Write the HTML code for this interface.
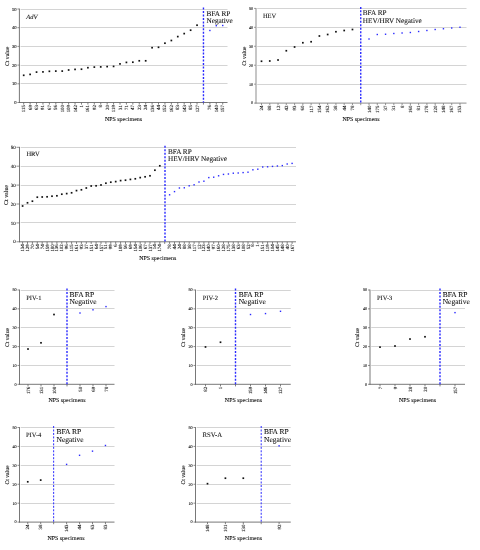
<!DOCTYPE html>
<html><head><meta charset="utf-8"><title>Ct values of NPS specimens</title>
<style>
html,body{margin:0;padding:0;background:#fff;}
body{width:480px;height:550px;overflow:hidden;font-family:"Liberation Serif",serif;}
svg{display:block;text-rendering:geometricPrecision;font-family:"Liberation Serif",serif;}
</style></head><body>
<svg width="480" height="550" viewBox="0 0 480 550">
<rect width="480" height="550" fill="#fff"/>
<line x1="20.60" y1="83.50" x2="227.50" y2="83.50" stroke="#c2c2c2" stroke-width="0.7"/>
<line x1="20.60" y1="65.50" x2="227.50" y2="65.50" stroke="#c2c2c2" stroke-width="0.7"/>
<line x1="20.60" y1="46.50" x2="227.50" y2="46.50" stroke="#c2c2c2" stroke-width="0.7"/>
<line x1="20.60" y1="27.50" x2="227.50" y2="27.50" stroke="#c2c2c2" stroke-width="0.7"/>
<line x1="20.60" y1="9.50" x2="227.50" y2="9.50" stroke="#c2c2c2" stroke-width="0.7"/>
<line x1="19.40" y1="8.60" x2="19.40" y2="102.90" stroke="#606060" stroke-width="0.85"/>
<line x1="19.00" y1="102.50" x2="227.50" y2="102.50" stroke="#606060" stroke-width="0.85"/>
<line x1="17.40" y1="102.50" x2="19.40" y2="102.50" stroke="#606060" stroke-width="0.7"/>
<text x="16.60" y="104.02" font-size="4.6" text-anchor="end" fill="#111" stroke="#111" stroke-width="0.1">0</text>
<line x1="17.40" y1="83.80" x2="19.40" y2="83.80" stroke="#606060" stroke-width="0.7"/>
<text x="16.60" y="85.32" font-size="4.6" text-anchor="end" fill="#111" stroke="#111" stroke-width="0.1">10</text>
<line x1="17.40" y1="65.10" x2="19.40" y2="65.10" stroke="#606060" stroke-width="0.7"/>
<text x="16.60" y="66.62" font-size="4.6" text-anchor="end" fill="#111" stroke="#111" stroke-width="0.1">20</text>
<line x1="17.40" y1="46.40" x2="19.40" y2="46.40" stroke="#606060" stroke-width="0.7"/>
<text x="16.60" y="47.92" font-size="4.6" text-anchor="end" fill="#111" stroke="#111" stroke-width="0.1">30</text>
<line x1="17.40" y1="27.70" x2="19.40" y2="27.70" stroke="#606060" stroke-width="0.7"/>
<text x="16.60" y="29.22" font-size="4.6" text-anchor="end" fill="#111" stroke="#111" stroke-width="0.1">40</text>
<line x1="17.40" y1="9.00" x2="19.40" y2="9.00" stroke="#606060" stroke-width="0.7"/>
<text x="16.60" y="10.52" font-size="4.6" text-anchor="end" fill="#111" stroke="#111" stroke-width="0.1">50</text>
<line x1="23.70" y1="102.50" x2="23.70" y2="104.60" stroke="#606060" stroke-width="0.8"/>
<text transform="translate(25.20 105.10) rotate(-90)" font-size="4.8" text-anchor="end" fill="#111" stroke="#111" stroke-width="0.1">115</text>
<line x1="30.12" y1="102.50" x2="30.12" y2="104.60" stroke="#606060" stroke-width="0.8"/>
<text transform="translate(31.62 105.10) rotate(-90)" font-size="4.8" text-anchor="end" fill="#111" stroke="#111" stroke-width="0.1">69</text>
<line x1="36.54" y1="102.50" x2="36.54" y2="104.60" stroke="#606060" stroke-width="0.8"/>
<text transform="translate(38.04 105.10) rotate(-90)" font-size="4.8" text-anchor="end" fill="#111" stroke="#111" stroke-width="0.1">63</text>
<line x1="42.96" y1="102.50" x2="42.96" y2="104.60" stroke="#606060" stroke-width="0.8"/>
<text transform="translate(44.46 105.10) rotate(-90)" font-size="4.8" text-anchor="end" fill="#111" stroke="#111" stroke-width="0.1">91</text>
<line x1="49.38" y1="102.50" x2="49.38" y2="104.60" stroke="#606060" stroke-width="0.8"/>
<text transform="translate(50.88 105.10) rotate(-90)" font-size="4.8" text-anchor="end" fill="#111" stroke="#111" stroke-width="0.1">67</text>
<line x1="55.80" y1="102.50" x2="55.80" y2="104.60" stroke="#606060" stroke-width="0.8"/>
<text transform="translate(57.30 105.10) rotate(-90)" font-size="4.8" text-anchor="end" fill="#111" stroke="#111" stroke-width="0.1">56</text>
<line x1="62.22" y1="102.50" x2="62.22" y2="104.60" stroke="#606060" stroke-width="0.8"/>
<text transform="translate(63.72 105.10) rotate(-90)" font-size="4.8" text-anchor="end" fill="#111" stroke="#111" stroke-width="0.1">100</text>
<line x1="68.64" y1="102.50" x2="68.64" y2="104.60" stroke="#606060" stroke-width="0.8"/>
<text transform="translate(70.14 105.10) rotate(-90)" font-size="4.8" text-anchor="end" fill="#111" stroke="#111" stroke-width="0.1">109</text>
<line x1="75.06" y1="102.50" x2="75.06" y2="104.60" stroke="#606060" stroke-width="0.8"/>
<text transform="translate(76.56 105.10) rotate(-90)" font-size="4.8" text-anchor="end" fill="#111" stroke="#111" stroke-width="0.1">142</text>
<line x1="81.48" y1="102.50" x2="81.48" y2="104.60" stroke="#606060" stroke-width="0.8"/>
<text transform="translate(82.98 105.10) rotate(-90)" font-size="4.8" text-anchor="end" fill="#111" stroke="#111" stroke-width="0.1">1</text>
<line x1="87.90" y1="102.50" x2="87.90" y2="104.60" stroke="#606060" stroke-width="0.8"/>
<text transform="translate(89.40 105.10) rotate(-90)" font-size="4.8" text-anchor="end" fill="#111" stroke="#111" stroke-width="0.1">161</text>
<line x1="94.32" y1="102.50" x2="94.32" y2="104.60" stroke="#606060" stroke-width="0.8"/>
<text transform="translate(95.82 105.10) rotate(-90)" font-size="4.8" text-anchor="end" fill="#111" stroke="#111" stroke-width="0.1">92</text>
<line x1="100.74" y1="102.50" x2="100.74" y2="104.60" stroke="#606060" stroke-width="0.8"/>
<text transform="translate(102.24 105.10) rotate(-90)" font-size="4.8" text-anchor="end" fill="#111" stroke="#111" stroke-width="0.1">8</text>
<line x1="107.16" y1="102.50" x2="107.16" y2="104.60" stroke="#606060" stroke-width="0.8"/>
<text transform="translate(108.66 105.10) rotate(-90)" font-size="4.8" text-anchor="end" fill="#111" stroke="#111" stroke-width="0.1">20</text>
<line x1="113.58" y1="102.50" x2="113.58" y2="104.60" stroke="#606060" stroke-width="0.8"/>
<text transform="translate(115.08 105.10) rotate(-90)" font-size="4.8" text-anchor="end" fill="#111" stroke="#111" stroke-width="0.1">119</text>
<line x1="120.00" y1="102.50" x2="120.00" y2="104.60" stroke="#606060" stroke-width="0.8"/>
<text transform="translate(121.50 105.10) rotate(-90)" font-size="4.8" text-anchor="end" fill="#111" stroke="#111" stroke-width="0.1">31</text>
<line x1="126.42" y1="102.50" x2="126.42" y2="104.60" stroke="#606060" stroke-width="0.8"/>
<text transform="translate(127.92 105.10) rotate(-90)" font-size="4.8" text-anchor="end" fill="#111" stroke="#111" stroke-width="0.1">71</text>
<line x1="132.84" y1="102.50" x2="132.84" y2="104.60" stroke="#606060" stroke-width="0.8"/>
<text transform="translate(134.34 105.10) rotate(-90)" font-size="4.8" text-anchor="end" fill="#111" stroke="#111" stroke-width="0.1">47</text>
<line x1="139.26" y1="102.50" x2="139.26" y2="104.60" stroke="#606060" stroke-width="0.8"/>
<text transform="translate(140.76 105.10) rotate(-90)" font-size="4.8" text-anchor="end" fill="#111" stroke="#111" stroke-width="0.1">23</text>
<line x1="145.68" y1="102.50" x2="145.68" y2="104.60" stroke="#606060" stroke-width="0.8"/>
<text transform="translate(147.18 105.10) rotate(-90)" font-size="4.8" text-anchor="end" fill="#111" stroke="#111" stroke-width="0.1">24</text>
<line x1="152.10" y1="102.50" x2="152.10" y2="104.60" stroke="#606060" stroke-width="0.8"/>
<text transform="translate(153.60 105.10) rotate(-90)" font-size="4.8" text-anchor="end" fill="#111" stroke="#111" stroke-width="0.1">136</text>
<line x1="158.52" y1="102.50" x2="158.52" y2="104.60" stroke="#606060" stroke-width="0.8"/>
<text transform="translate(160.02 105.10) rotate(-90)" font-size="4.8" text-anchor="end" fill="#111" stroke="#111" stroke-width="0.1">44</text>
<line x1="164.94" y1="102.50" x2="164.94" y2="104.60" stroke="#606060" stroke-width="0.8"/>
<text transform="translate(166.44 105.10) rotate(-90)" font-size="4.8" text-anchor="end" fill="#111" stroke="#111" stroke-width="0.1">152</text>
<line x1="171.36" y1="102.50" x2="171.36" y2="104.60" stroke="#606060" stroke-width="0.8"/>
<text transform="translate(172.86 105.10) rotate(-90)" font-size="4.8" text-anchor="end" fill="#111" stroke="#111" stroke-width="0.1">162</text>
<line x1="177.78" y1="102.50" x2="177.78" y2="104.60" stroke="#606060" stroke-width="0.8"/>
<text transform="translate(179.28 105.10) rotate(-90)" font-size="4.8" text-anchor="end" fill="#111" stroke="#111" stroke-width="0.1">83</text>
<line x1="184.20" y1="102.50" x2="184.20" y2="104.60" stroke="#606060" stroke-width="0.8"/>
<text transform="translate(185.70 105.10) rotate(-90)" font-size="4.8" text-anchor="end" fill="#111" stroke="#111" stroke-width="0.1">143</text>
<line x1="190.62" y1="102.50" x2="190.62" y2="104.60" stroke="#606060" stroke-width="0.8"/>
<text transform="translate(192.12 105.10) rotate(-90)" font-size="4.8" text-anchor="end" fill="#111" stroke="#111" stroke-width="0.1">85</text>
<line x1="197.04" y1="102.50" x2="197.04" y2="104.60" stroke="#606060" stroke-width="0.8"/>
<text transform="translate(198.54 105.10) rotate(-90)" font-size="4.8" text-anchor="end" fill="#111" stroke="#111" stroke-width="0.1">127</text>
<line x1="203.46" y1="102.50" x2="203.46" y2="104.60" stroke="#606060" stroke-width="0.8"/>
<line x1="209.88" y1="102.50" x2="209.88" y2="104.60" stroke="#606060" stroke-width="0.8"/>
<text transform="translate(211.38 105.10) rotate(-90)" font-size="4.8" text-anchor="end" fill="#111" stroke="#111" stroke-width="0.1">76</text>
<line x1="216.30" y1="102.50" x2="216.30" y2="104.60" stroke="#606060" stroke-width="0.8"/>
<text transform="translate(217.80 105.10) rotate(-90)" font-size="4.8" text-anchor="end" fill="#111" stroke="#111" stroke-width="0.1">140</text>
<line x1="222.72" y1="102.50" x2="222.72" y2="104.60" stroke="#606060" stroke-width="0.8"/>
<text transform="translate(224.22 105.10) rotate(-90)" font-size="4.8" text-anchor="end" fill="#111" stroke="#111" stroke-width="0.1">157</text>
<line x1="203.46" y1="7.50" x2="203.46" y2="102.50" stroke="#2a2aff" stroke-width="1.4" stroke-dasharray="2.0 1.47"/>
<rect x="22.85" y="74.45" width="1.7" height="1.7" fill="#111"/>
<rect x="29.27" y="73.55" width="1.7" height="1.7" fill="#111"/>
<rect x="35.69" y="71.25" width="1.7" height="1.7" fill="#111"/>
<rect x="42.11" y="71.05" width="1.7" height="1.7" fill="#111"/>
<rect x="48.53" y="70.45" width="1.7" height="1.7" fill="#111"/>
<rect x="54.95" y="70.25" width="1.7" height="1.7" fill="#111"/>
<rect x="61.37" y="70.25" width="1.7" height="1.7" fill="#111"/>
<rect x="67.79" y="69.15" width="1.7" height="1.7" fill="#111"/>
<rect x="74.21" y="68.55" width="1.7" height="1.7" fill="#111"/>
<rect x="80.63" y="68.35" width="1.7" height="1.7" fill="#111"/>
<rect x="87.05" y="66.85" width="1.7" height="1.7" fill="#111"/>
<rect x="93.47" y="66.25" width="1.7" height="1.7" fill="#111"/>
<rect x="99.89" y="66.05" width="1.7" height="1.7" fill="#111"/>
<rect x="106.31" y="65.75" width="1.7" height="1.7" fill="#111"/>
<rect x="112.73" y="65.55" width="1.7" height="1.7" fill="#111"/>
<rect x="119.15" y="63.05" width="1.7" height="1.7" fill="#111"/>
<rect x="125.57" y="61.55" width="1.7" height="1.7" fill="#111"/>
<rect x="131.99" y="61.35" width="1.7" height="1.7" fill="#111"/>
<rect x="138.41" y="59.95" width="1.7" height="1.7" fill="#111"/>
<rect x="144.83" y="59.95" width="1.7" height="1.7" fill="#111"/>
<rect x="151.25" y="46.85" width="1.7" height="1.7" fill="#111"/>
<rect x="157.67" y="46.45" width="1.7" height="1.7" fill="#111"/>
<rect x="164.09" y="42.35" width="1.7" height="1.7" fill="#111"/>
<rect x="170.51" y="39.65" width="1.7" height="1.7" fill="#111"/>
<rect x="176.93" y="35.75" width="1.7" height="1.7" fill="#111"/>
<rect x="183.35" y="32.75" width="1.7" height="1.7" fill="#111"/>
<rect x="189.77" y="29.35" width="1.7" height="1.7" fill="#111"/>
<rect x="196.19" y="24.35" width="1.7" height="1.7" fill="#111"/>
<rect x="209.18" y="29.80" width="1.4" height="1.4" fill="#2a2aff"/>
<rect x="215.60" y="25.00" width="1.4" height="1.4" fill="#2a2aff"/>
<rect x="222.02" y="24.80" width="1.4" height="1.4" fill="#2a2aff"/>
<text x="26.30" y="18.60" font-size="6.5" font-style="italic" fill="#111" stroke="#111" stroke-width="0.08">AdV</text>
<text x="206.40" y="15.90" font-size="7.3" fill="#111" stroke="#111" stroke-width="0.08">BFA RP</text>
<text x="206.40" y="23.30" font-size="7.3" fill="#111" stroke="#111" stroke-width="0.08">Negative</text>
<text x="123.50" y="120.80" font-size="5.95" text-anchor="middle" fill="#111" stroke="#111" stroke-width="0.1">NPS specimens</text>
<text transform="translate(8.50 56.40) rotate(-90)" font-size="5.7" text-anchor="middle" fill="#111" stroke="#111" stroke-width="0.1">Ct value</text>
<line x1="257.20" y1="84.50" x2="466.50" y2="84.50" stroke="#c2c2c2" stroke-width="0.7"/>
<line x1="257.20" y1="65.50" x2="466.50" y2="65.50" stroke="#c2c2c2" stroke-width="0.7"/>
<line x1="257.20" y1="46.50" x2="466.50" y2="46.50" stroke="#c2c2c2" stroke-width="0.7"/>
<line x1="257.20" y1="27.50" x2="466.50" y2="27.50" stroke="#c2c2c2" stroke-width="0.7"/>
<line x1="257.20" y1="8.50" x2="466.50" y2="8.50" stroke="#c2c2c2" stroke-width="0.7"/>
<line x1="256.00" y1="8.00" x2="256.00" y2="103.50" stroke="#7a7a7a" stroke-width="0.85"/>
<line x1="255.60" y1="103.10" x2="466.50" y2="103.10" stroke="#7a7a7a" stroke-width="0.85"/>
<line x1="254.00" y1="103.10" x2="256.00" y2="103.10" stroke="#7a7a7a" stroke-width="0.7"/>
<text x="253.20" y="104.49" font-size="4.2" text-anchor="end" fill="#111" stroke="#111" stroke-width="0.1">0</text>
<line x1="254.00" y1="84.16" x2="256.00" y2="84.16" stroke="#7a7a7a" stroke-width="0.7"/>
<text x="253.20" y="85.55" font-size="4.2" text-anchor="end" fill="#111" stroke="#111" stroke-width="0.1">10</text>
<line x1="254.00" y1="65.22" x2="256.00" y2="65.22" stroke="#7a7a7a" stroke-width="0.7"/>
<text x="253.20" y="66.61" font-size="4.2" text-anchor="end" fill="#111" stroke="#111" stroke-width="0.1">20</text>
<line x1="254.00" y1="46.28" x2="256.00" y2="46.28" stroke="#7a7a7a" stroke-width="0.7"/>
<text x="253.20" y="47.67" font-size="4.2" text-anchor="end" fill="#111" stroke="#111" stroke-width="0.1">30</text>
<line x1="254.00" y1="27.34" x2="256.00" y2="27.34" stroke="#7a7a7a" stroke-width="0.7"/>
<text x="253.20" y="28.73" font-size="4.2" text-anchor="end" fill="#111" stroke="#111" stroke-width="0.1">40</text>
<line x1="254.00" y1="8.40" x2="256.00" y2="8.40" stroke="#7a7a7a" stroke-width="0.7"/>
<text x="253.20" y="9.79" font-size="4.2" text-anchor="end" fill="#111" stroke="#111" stroke-width="0.1">50</text>
<line x1="261.50" y1="103.10" x2="261.50" y2="105.20" stroke="#7a7a7a" stroke-width="0.8"/>
<text transform="translate(263.00 105.70) rotate(-90)" font-size="4.8" text-anchor="end" fill="#111" stroke="#111" stroke-width="0.1">24</text>
<line x1="269.77" y1="103.10" x2="269.77" y2="105.20" stroke="#7a7a7a" stroke-width="0.8"/>
<text transform="translate(271.27 105.70) rotate(-90)" font-size="4.8" text-anchor="end" fill="#111" stroke="#111" stroke-width="0.1">88</text>
<line x1="278.04" y1="103.10" x2="278.04" y2="105.20" stroke="#7a7a7a" stroke-width="0.8"/>
<text transform="translate(279.54 105.70) rotate(-90)" font-size="4.8" text-anchor="end" fill="#111" stroke="#111" stroke-width="0.1">12</text>
<line x1="286.31" y1="103.10" x2="286.31" y2="105.20" stroke="#7a7a7a" stroke-width="0.8"/>
<text transform="translate(287.81 105.70) rotate(-90)" font-size="4.8" text-anchor="end" fill="#111" stroke="#111" stroke-width="0.1">42</text>
<line x1="294.58" y1="103.10" x2="294.58" y2="105.20" stroke="#7a7a7a" stroke-width="0.8"/>
<text transform="translate(296.08 105.70) rotate(-90)" font-size="4.8" text-anchor="end" fill="#111" stroke="#111" stroke-width="0.1">93</text>
<line x1="302.85" y1="103.10" x2="302.85" y2="105.20" stroke="#7a7a7a" stroke-width="0.8"/>
<text transform="translate(304.35 105.70) rotate(-90)" font-size="4.8" text-anchor="end" fill="#111" stroke="#111" stroke-width="0.1">60</text>
<line x1="311.12" y1="103.10" x2="311.12" y2="105.20" stroke="#7a7a7a" stroke-width="0.8"/>
<text transform="translate(312.62 105.70) rotate(-90)" font-size="4.8" text-anchor="end" fill="#111" stroke="#111" stroke-width="0.1">117</text>
<line x1="319.39" y1="103.10" x2="319.39" y2="105.20" stroke="#7a7a7a" stroke-width="0.8"/>
<text transform="translate(320.89 105.70) rotate(-90)" font-size="4.8" text-anchor="end" fill="#111" stroke="#111" stroke-width="0.1">154</text>
<line x1="327.66" y1="103.10" x2="327.66" y2="105.20" stroke="#7a7a7a" stroke-width="0.8"/>
<text transform="translate(329.16 105.70) rotate(-90)" font-size="4.8" text-anchor="end" fill="#111" stroke="#111" stroke-width="0.1">162</text>
<line x1="335.93" y1="103.10" x2="335.93" y2="105.20" stroke="#7a7a7a" stroke-width="0.8"/>
<text transform="translate(337.43 105.70) rotate(-90)" font-size="4.8" text-anchor="end" fill="#111" stroke="#111" stroke-width="0.1">38</text>
<line x1="344.20" y1="103.10" x2="344.20" y2="105.20" stroke="#7a7a7a" stroke-width="0.8"/>
<text transform="translate(345.70 105.70) rotate(-90)" font-size="4.8" text-anchor="end" fill="#111" stroke="#111" stroke-width="0.1">44</text>
<line x1="352.47" y1="103.10" x2="352.47" y2="105.20" stroke="#7a7a7a" stroke-width="0.8"/>
<text transform="translate(353.97 105.70) rotate(-90)" font-size="4.8" text-anchor="end" fill="#111" stroke="#111" stroke-width="0.1">78</text>
<line x1="360.74" y1="103.10" x2="360.74" y2="105.20" stroke="#7a7a7a" stroke-width="0.8"/>
<line x1="369.01" y1="103.10" x2="369.01" y2="105.20" stroke="#7a7a7a" stroke-width="0.8"/>
<text transform="translate(370.51 105.70) rotate(-90)" font-size="4.8" text-anchor="end" fill="#111" stroke="#111" stroke-width="0.1">140</text>
<line x1="377.28" y1="103.10" x2="377.28" y2="105.20" stroke="#7a7a7a" stroke-width="0.8"/>
<text transform="translate(378.78 105.70) rotate(-90)" font-size="4.8" text-anchor="end" fill="#111" stroke="#111" stroke-width="0.1">175</text>
<line x1="385.55" y1="103.10" x2="385.55" y2="105.20" stroke="#7a7a7a" stroke-width="0.8"/>
<text transform="translate(387.05 105.70) rotate(-90)" font-size="4.8" text-anchor="end" fill="#111" stroke="#111" stroke-width="0.1">37</text>
<line x1="393.82" y1="103.10" x2="393.82" y2="105.20" stroke="#7a7a7a" stroke-width="0.8"/>
<text transform="translate(395.32 105.70) rotate(-90)" font-size="4.8" text-anchor="end" fill="#111" stroke="#111" stroke-width="0.1">31</text>
<line x1="402.09" y1="103.10" x2="402.09" y2="105.20" stroke="#7a7a7a" stroke-width="0.8"/>
<text transform="translate(403.59 105.70) rotate(-90)" font-size="4.8" text-anchor="end" fill="#111" stroke="#111" stroke-width="0.1">8</text>
<line x1="410.36" y1="103.10" x2="410.36" y2="105.20" stroke="#7a7a7a" stroke-width="0.8"/>
<text transform="translate(411.86 105.70) rotate(-90)" font-size="4.8" text-anchor="end" fill="#111" stroke="#111" stroke-width="0.1">160</text>
<line x1="418.63" y1="103.10" x2="418.63" y2="105.20" stroke="#7a7a7a" stroke-width="0.8"/>
<text transform="translate(420.13 105.70) rotate(-90)" font-size="4.8" text-anchor="end" fill="#111" stroke="#111" stroke-width="0.1">81</text>
<line x1="426.90" y1="103.10" x2="426.90" y2="105.20" stroke="#7a7a7a" stroke-width="0.8"/>
<text transform="translate(428.40 105.70) rotate(-90)" font-size="4.8" text-anchor="end" fill="#111" stroke="#111" stroke-width="0.1">178</text>
<line x1="435.17" y1="103.10" x2="435.17" y2="105.20" stroke="#7a7a7a" stroke-width="0.8"/>
<text transform="translate(436.67 105.70) rotate(-90)" font-size="4.8" text-anchor="end" fill="#111" stroke="#111" stroke-width="0.1">120</text>
<line x1="443.44" y1="103.10" x2="443.44" y2="105.20" stroke="#7a7a7a" stroke-width="0.8"/>
<text transform="translate(444.94 105.70) rotate(-90)" font-size="4.8" text-anchor="end" fill="#111" stroke="#111" stroke-width="0.1">148</text>
<line x1="451.71" y1="103.10" x2="451.71" y2="105.20" stroke="#7a7a7a" stroke-width="0.8"/>
<text transform="translate(453.21 105.70) rotate(-90)" font-size="4.8" text-anchor="end" fill="#111" stroke="#111" stroke-width="0.1">167</text>
<line x1="459.98" y1="103.10" x2="459.98" y2="105.20" stroke="#7a7a7a" stroke-width="0.8"/>
<text transform="translate(461.48 105.70) rotate(-90)" font-size="4.8" text-anchor="end" fill="#111" stroke="#111" stroke-width="0.1">153</text>
<line x1="360.74" y1="6.90" x2="360.74" y2="103.10" stroke="#2a2aff" stroke-width="1.4" stroke-dasharray="2.0 1.47"/>
<rect x="260.65" y="60.40" width="1.7" height="1.7" fill="#111"/>
<rect x="268.92" y="60.15" width="1.7" height="1.7" fill="#111"/>
<rect x="277.19" y="59.15" width="1.7" height="1.7" fill="#111"/>
<rect x="285.46" y="49.90" width="1.7" height="1.7" fill="#111"/>
<rect x="293.73" y="46.15" width="1.7" height="1.7" fill="#111"/>
<rect x="302.00" y="41.90" width="1.7" height="1.7" fill="#111"/>
<rect x="310.27" y="40.90" width="1.7" height="1.7" fill="#111"/>
<rect x="318.54" y="35.15" width="1.7" height="1.7" fill="#111"/>
<rect x="326.81" y="33.65" width="1.7" height="1.7" fill="#111"/>
<rect x="335.08" y="30.90" width="1.7" height="1.7" fill="#111"/>
<rect x="343.35" y="29.65" width="1.7" height="1.7" fill="#111"/>
<rect x="351.62" y="28.65" width="1.7" height="1.7" fill="#111"/>
<rect x="368.31" y="38.30" width="1.4" height="1.4" fill="#2a2aff"/>
<rect x="376.58" y="33.80" width="1.4" height="1.4" fill="#2a2aff"/>
<rect x="384.85" y="33.55" width="1.4" height="1.4" fill="#2a2aff"/>
<rect x="393.12" y="32.80" width="1.4" height="1.4" fill="#2a2aff"/>
<rect x="401.39" y="32.30" width="1.4" height="1.4" fill="#2a2aff"/>
<rect x="409.66" y="31.80" width="1.4" height="1.4" fill="#2a2aff"/>
<rect x="417.93" y="30.80" width="1.4" height="1.4" fill="#2a2aff"/>
<rect x="426.20" y="29.80" width="1.4" height="1.4" fill="#2a2aff"/>
<rect x="434.47" y="28.80" width="1.4" height="1.4" fill="#2a2aff"/>
<rect x="442.74" y="28.05" width="1.4" height="1.4" fill="#2a2aff"/>
<rect x="451.01" y="27.30" width="1.4" height="1.4" fill="#2a2aff"/>
<rect x="459.28" y="26.55" width="1.4" height="1.4" fill="#2a2aff"/>
<text x="262.90" y="17.70" font-size="6.5" fill="#111" stroke="#111" stroke-width="0.08">HEV</text>
<text x="362.80" y="15.30" font-size="7.2" fill="#111" stroke="#111" stroke-width="0.08">BFA RP</text>
<text x="362.80" y="22.70" font-size="7.2" fill="#111" stroke="#111" stroke-width="0.08">HEV/HRV Negative</text>
<text x="361.00" y="120.80" font-size="5.95" text-anchor="middle" fill="#111" stroke="#111" stroke-width="0.1">NPS specimens</text>
<text transform="translate(245.50 56.20) rotate(-90)" font-size="5.7" text-anchor="middle" fill="#111" stroke="#111" stroke-width="0.1">Ct value</text>
<line x1="20.70" y1="222.50" x2="296.00" y2="222.50" stroke="#c2c2c2" stroke-width="0.7"/>
<line x1="20.70" y1="204.50" x2="296.00" y2="204.50" stroke="#c2c2c2" stroke-width="0.7"/>
<line x1="20.70" y1="185.50" x2="296.00" y2="185.50" stroke="#c2c2c2" stroke-width="0.7"/>
<line x1="20.70" y1="166.50" x2="296.00" y2="166.50" stroke="#c2c2c2" stroke-width="0.7"/>
<line x1="20.70" y1="147.50" x2="296.00" y2="147.50" stroke="#c2c2c2" stroke-width="0.7"/>
<line x1="19.50" y1="146.90" x2="19.50" y2="242.20" stroke="#606060" stroke-width="0.85"/>
<line x1="19.10" y1="241.80" x2="296.00" y2="241.80" stroke="#606060" stroke-width="0.85"/>
<line x1="16.50" y1="241.80" x2="19.50" y2="241.80" stroke="#606060" stroke-width="0.7"/>
<text x="15.70" y="243.42" font-size="4.9" text-anchor="end" fill="#111" stroke="#111" stroke-width="0.1">0</text>
<line x1="16.50" y1="222.90" x2="19.50" y2="222.90" stroke="#606060" stroke-width="0.7"/>
<text x="15.70" y="224.52" font-size="4.9" text-anchor="end" fill="#111" stroke="#111" stroke-width="0.1">10</text>
<line x1="16.50" y1="204.00" x2="19.50" y2="204.00" stroke="#606060" stroke-width="0.7"/>
<text x="15.70" y="205.62" font-size="4.9" text-anchor="end" fill="#111" stroke="#111" stroke-width="0.1">20</text>
<line x1="16.50" y1="185.10" x2="19.50" y2="185.10" stroke="#606060" stroke-width="0.7"/>
<text x="15.70" y="186.72" font-size="4.9" text-anchor="end" fill="#111" stroke="#111" stroke-width="0.1">30</text>
<line x1="16.50" y1="166.20" x2="19.50" y2="166.20" stroke="#606060" stroke-width="0.7"/>
<text x="15.70" y="167.82" font-size="4.9" text-anchor="end" fill="#111" stroke="#111" stroke-width="0.1">40</text>
<line x1="16.50" y1="147.30" x2="19.50" y2="147.30" stroke="#606060" stroke-width="0.7"/>
<text x="15.70" y="148.92" font-size="4.9" text-anchor="end" fill="#111" stroke="#111" stroke-width="0.1">50</text>
<line x1="22.60" y1="241.80" x2="22.60" y2="243.90" stroke="#606060" stroke-width="0.8"/>
<text transform="translate(24.10 244.40) rotate(-90)" font-size="4.8" text-anchor="end" fill="#111" stroke="#111" stroke-width="0.1">134</text>
<line x1="27.50" y1="241.80" x2="27.50" y2="243.90" stroke="#606060" stroke-width="0.8"/>
<text transform="translate(29.00 244.40) rotate(-90)" font-size="4.8" text-anchor="end" fill="#111" stroke="#111" stroke-width="0.1">129</text>
<line x1="32.40" y1="241.80" x2="32.40" y2="243.90" stroke="#606060" stroke-width="0.8"/>
<text transform="translate(33.90 244.40) rotate(-90)" font-size="4.8" text-anchor="end" fill="#111" stroke="#111" stroke-width="0.1">70</text>
<line x1="37.30" y1="241.80" x2="37.30" y2="243.90" stroke="#606060" stroke-width="0.8"/>
<text transform="translate(38.80 244.40) rotate(-90)" font-size="4.8" text-anchor="end" fill="#111" stroke="#111" stroke-width="0.1">54</text>
<line x1="42.20" y1="241.80" x2="42.20" y2="243.90" stroke="#606060" stroke-width="0.8"/>
<text transform="translate(43.70 244.40) rotate(-90)" font-size="4.8" text-anchor="end" fill="#111" stroke="#111" stroke-width="0.1">74</text>
<line x1="47.10" y1="241.80" x2="47.10" y2="243.90" stroke="#606060" stroke-width="0.8"/>
<text transform="translate(48.60 244.40) rotate(-90)" font-size="4.8" text-anchor="end" fill="#111" stroke="#111" stroke-width="0.1">159</text>
<line x1="52.00" y1="241.80" x2="52.00" y2="243.90" stroke="#606060" stroke-width="0.8"/>
<text transform="translate(53.50 244.40) rotate(-90)" font-size="4.8" text-anchor="end" fill="#111" stroke="#111" stroke-width="0.1">180</text>
<line x1="56.90" y1="241.80" x2="56.90" y2="243.90" stroke="#606060" stroke-width="0.8"/>
<text transform="translate(58.40 244.40) rotate(-90)" font-size="4.8" text-anchor="end" fill="#111" stroke="#111" stroke-width="0.1">136</text>
<line x1="61.80" y1="241.80" x2="61.80" y2="243.90" stroke="#606060" stroke-width="0.8"/>
<text transform="translate(63.30 244.40) rotate(-90)" font-size="4.8" text-anchor="end" fill="#111" stroke="#111" stroke-width="0.1">102</text>
<line x1="66.70" y1="241.80" x2="66.70" y2="243.90" stroke="#606060" stroke-width="0.8"/>
<text transform="translate(68.20 244.40) rotate(-90)" font-size="4.8" text-anchor="end" fill="#111" stroke="#111" stroke-width="0.1">96</text>
<line x1="71.60" y1="241.80" x2="71.60" y2="243.90" stroke="#606060" stroke-width="0.8"/>
<text transform="translate(73.10 244.40) rotate(-90)" font-size="4.8" text-anchor="end" fill="#111" stroke="#111" stroke-width="0.1">115</text>
<line x1="76.50" y1="241.80" x2="76.50" y2="243.90" stroke="#606060" stroke-width="0.8"/>
<text transform="translate(78.00 244.40) rotate(-90)" font-size="4.8" text-anchor="end" fill="#111" stroke="#111" stroke-width="0.1">161</text>
<line x1="81.40" y1="241.80" x2="81.40" y2="243.90" stroke="#606060" stroke-width="0.8"/>
<text transform="translate(82.90 244.40) rotate(-90)" font-size="4.8" text-anchor="end" fill="#111" stroke="#111" stroke-width="0.1">93</text>
<line x1="86.30" y1="241.80" x2="86.30" y2="243.90" stroke="#606060" stroke-width="0.8"/>
<text transform="translate(87.80 244.40) rotate(-90)" font-size="4.8" text-anchor="end" fill="#111" stroke="#111" stroke-width="0.1">37</text>
<line x1="91.20" y1="241.80" x2="91.20" y2="243.90" stroke="#606060" stroke-width="0.8"/>
<text transform="translate(92.70 244.40) rotate(-90)" font-size="4.8" text-anchor="end" fill="#111" stroke="#111" stroke-width="0.1">151</text>
<line x1="96.10" y1="241.80" x2="96.10" y2="243.90" stroke="#606060" stroke-width="0.8"/>
<text transform="translate(97.60 244.40) rotate(-90)" font-size="4.8" text-anchor="end" fill="#111" stroke="#111" stroke-width="0.1">64</text>
<line x1="101.00" y1="241.80" x2="101.00" y2="243.90" stroke="#606060" stroke-width="0.8"/>
<text transform="translate(102.50 244.40) rotate(-90)" font-size="4.8" text-anchor="end" fill="#111" stroke="#111" stroke-width="0.1">157</text>
<line x1="105.90" y1="241.80" x2="105.90" y2="243.90" stroke="#606060" stroke-width="0.8"/>
<text transform="translate(107.40 244.40) rotate(-90)" font-size="4.8" text-anchor="end" fill="#111" stroke="#111" stroke-width="0.1">51</text>
<line x1="110.80" y1="241.80" x2="110.80" y2="243.90" stroke="#606060" stroke-width="0.8"/>
<text transform="translate(112.30 244.40) rotate(-90)" font-size="4.8" text-anchor="end" fill="#111" stroke="#111" stroke-width="0.1">99</text>
<line x1="115.70" y1="241.80" x2="115.70" y2="243.90" stroke="#606060" stroke-width="0.8"/>
<text transform="translate(117.20 244.40) rotate(-90)" font-size="4.8" text-anchor="end" fill="#111" stroke="#111" stroke-width="0.1">6</text>
<line x1="120.60" y1="241.80" x2="120.60" y2="243.90" stroke="#606060" stroke-width="0.8"/>
<text transform="translate(122.10 244.40) rotate(-90)" font-size="4.8" text-anchor="end" fill="#111" stroke="#111" stroke-width="0.1">189</text>
<line x1="125.50" y1="241.80" x2="125.50" y2="243.90" stroke="#606060" stroke-width="0.8"/>
<text transform="translate(127.00 244.40) rotate(-90)" font-size="4.8" text-anchor="end" fill="#111" stroke="#111" stroke-width="0.1">56</text>
<line x1="130.40" y1="241.80" x2="130.40" y2="243.90" stroke="#606060" stroke-width="0.8"/>
<text transform="translate(131.90 244.40) rotate(-90)" font-size="4.8" text-anchor="end" fill="#111" stroke="#111" stroke-width="0.1">69</text>
<line x1="135.30" y1="241.80" x2="135.30" y2="243.90" stroke="#606060" stroke-width="0.8"/>
<text transform="translate(136.80 244.40) rotate(-90)" font-size="4.8" text-anchor="end" fill="#111" stroke="#111" stroke-width="0.1">154</text>
<line x1="140.20" y1="241.80" x2="140.20" y2="243.90" stroke="#606060" stroke-width="0.8"/>
<text transform="translate(141.70 244.40) rotate(-90)" font-size="4.8" text-anchor="end" fill="#111" stroke="#111" stroke-width="0.1">106</text>
<line x1="145.10" y1="241.80" x2="145.10" y2="243.90" stroke="#606060" stroke-width="0.8"/>
<text transform="translate(146.60 244.40) rotate(-90)" font-size="4.8" text-anchor="end" fill="#111" stroke="#111" stroke-width="0.1">67</text>
<line x1="150.00" y1="241.80" x2="150.00" y2="243.90" stroke="#606060" stroke-width="0.8"/>
<text transform="translate(151.50 244.40) rotate(-90)" font-size="4.8" text-anchor="end" fill="#111" stroke="#111" stroke-width="0.1">137</text>
<line x1="154.90" y1="241.80" x2="154.90" y2="243.90" stroke="#606060" stroke-width="0.8"/>
<text transform="translate(156.40 244.40) rotate(-90)" font-size="4.8" text-anchor="end" fill="#111" stroke="#111" stroke-width="0.1">14</text>
<line x1="159.80" y1="241.80" x2="159.80" y2="243.90" stroke="#606060" stroke-width="0.8"/>
<text transform="translate(161.30 244.40) rotate(-90)" font-size="4.8" text-anchor="end" fill="#111" stroke="#111" stroke-width="0.1">174</text>
<line x1="164.70" y1="241.80" x2="164.70" y2="243.90" stroke="#606060" stroke-width="0.8"/>
<line x1="169.60" y1="241.80" x2="169.60" y2="243.90" stroke="#606060" stroke-width="0.8"/>
<text transform="translate(171.10 244.40) rotate(-90)" font-size="4.8" text-anchor="end" fill="#111" stroke="#111" stroke-width="0.1">78</text>
<line x1="174.50" y1="241.80" x2="174.50" y2="243.90" stroke="#606060" stroke-width="0.8"/>
<text transform="translate(176.00 244.40) rotate(-90)" font-size="4.8" text-anchor="end" fill="#111" stroke="#111" stroke-width="0.1">44</text>
<line x1="179.40" y1="241.80" x2="179.40" y2="243.90" stroke="#606060" stroke-width="0.8"/>
<text transform="translate(180.90 244.40) rotate(-90)" font-size="4.8" text-anchor="end" fill="#111" stroke="#111" stroke-width="0.1">24</text>
<line x1="184.30" y1="241.80" x2="184.30" y2="243.90" stroke="#606060" stroke-width="0.8"/>
<text transform="translate(185.80 244.40) rotate(-90)" font-size="4.8" text-anchor="end" fill="#111" stroke="#111" stroke-width="0.1">88</text>
<line x1="189.20" y1="241.80" x2="189.20" y2="243.90" stroke="#606060" stroke-width="0.8"/>
<text transform="translate(190.70 244.40) rotate(-90)" font-size="4.8" text-anchor="end" fill="#111" stroke="#111" stroke-width="0.1">38</text>
<line x1="194.10" y1="241.80" x2="194.10" y2="243.90" stroke="#606060" stroke-width="0.8"/>
<text transform="translate(195.60 244.40) rotate(-90)" font-size="4.8" text-anchor="end" fill="#111" stroke="#111" stroke-width="0.1">117</text>
<line x1="199.00" y1="241.80" x2="199.00" y2="243.90" stroke="#606060" stroke-width="0.8"/>
<text transform="translate(200.50 244.40) rotate(-90)" font-size="4.8" text-anchor="end" fill="#111" stroke="#111" stroke-width="0.1">12</text>
<line x1="203.90" y1="241.80" x2="203.90" y2="243.90" stroke="#606060" stroke-width="0.8"/>
<text transform="translate(205.40 244.40) rotate(-90)" font-size="4.8" text-anchor="end" fill="#111" stroke="#111" stroke-width="0.1">123</text>
<line x1="208.80" y1="241.80" x2="208.80" y2="243.90" stroke="#606060" stroke-width="0.8"/>
<text transform="translate(210.30 244.40) rotate(-90)" font-size="4.8" text-anchor="end" fill="#111" stroke="#111" stroke-width="0.1">140</text>
<line x1="213.70" y1="241.80" x2="213.70" y2="243.90" stroke="#606060" stroke-width="0.8"/>
<text transform="translate(215.20 244.40) rotate(-90)" font-size="4.8" text-anchor="end" fill="#111" stroke="#111" stroke-width="0.1">97</text>
<line x1="218.60" y1="241.80" x2="218.60" y2="243.90" stroke="#606060" stroke-width="0.8"/>
<text transform="translate(220.10 244.40) rotate(-90)" font-size="4.8" text-anchor="end" fill="#111" stroke="#111" stroke-width="0.1">160</text>
<line x1="223.50" y1="241.80" x2="223.50" y2="243.90" stroke="#606060" stroke-width="0.8"/>
<text transform="translate(225.00 244.40) rotate(-90)" font-size="4.8" text-anchor="end" fill="#111" stroke="#111" stroke-width="0.1">128</text>
<line x1="228.40" y1="241.80" x2="228.40" y2="243.90" stroke="#606060" stroke-width="0.8"/>
<text transform="translate(229.90 244.40) rotate(-90)" font-size="4.8" text-anchor="end" fill="#111" stroke="#111" stroke-width="0.1">175</text>
<line x1="233.30" y1="241.80" x2="233.30" y2="243.90" stroke="#606060" stroke-width="0.8"/>
<text transform="translate(234.80 244.40) rotate(-90)" font-size="4.8" text-anchor="end" fill="#111" stroke="#111" stroke-width="0.1">138</text>
<line x1="238.20" y1="241.80" x2="238.20" y2="243.90" stroke="#606060" stroke-width="0.8"/>
<text transform="translate(239.70 244.40) rotate(-90)" font-size="4.8" text-anchor="end" fill="#111" stroke="#111" stroke-width="0.1">63</text>
<line x1="243.10" y1="241.80" x2="243.10" y2="243.90" stroke="#606060" stroke-width="0.8"/>
<text transform="translate(244.60 244.40) rotate(-90)" font-size="4.8" text-anchor="end" fill="#111" stroke="#111" stroke-width="0.1">108</text>
<line x1="248.00" y1="241.80" x2="248.00" y2="243.90" stroke="#606060" stroke-width="0.8"/>
<text transform="translate(249.50 244.40) rotate(-90)" font-size="4.8" text-anchor="end" fill="#111" stroke="#111" stroke-width="0.1">52</text>
<line x1="252.90" y1="241.80" x2="252.90" y2="243.90" stroke="#606060" stroke-width="0.8"/>
<text transform="translate(254.40 244.40) rotate(-90)" font-size="4.8" text-anchor="end" fill="#111" stroke="#111" stroke-width="0.1">8</text>
<line x1="257.80" y1="241.80" x2="257.80" y2="243.90" stroke="#606060" stroke-width="0.8"/>
<text transform="translate(259.30 244.40) rotate(-90)" font-size="4.8" text-anchor="end" fill="#111" stroke="#111" stroke-width="0.1">1</text>
<line x1="262.70" y1="241.80" x2="262.70" y2="243.90" stroke="#606060" stroke-width="0.8"/>
<text transform="translate(264.20 244.40) rotate(-90)" font-size="4.8" text-anchor="end" fill="#111" stroke="#111" stroke-width="0.1">151</text>
<line x1="267.60" y1="241.80" x2="267.60" y2="243.90" stroke="#606060" stroke-width="0.8"/>
<text transform="translate(269.10 244.40) rotate(-90)" font-size="4.8" text-anchor="end" fill="#111" stroke="#111" stroke-width="0.1">119</text>
<line x1="272.50" y1="241.80" x2="272.50" y2="243.90" stroke="#606060" stroke-width="0.8"/>
<text transform="translate(274.00 244.40) rotate(-90)" font-size="4.8" text-anchor="end" fill="#111" stroke="#111" stroke-width="0.1">104</text>
<line x1="277.40" y1="241.80" x2="277.40" y2="243.90" stroke="#606060" stroke-width="0.8"/>
<text transform="translate(278.90 244.40) rotate(-90)" font-size="4.8" text-anchor="end" fill="#111" stroke="#111" stroke-width="0.1">145</text>
<line x1="282.30" y1="241.80" x2="282.30" y2="243.90" stroke="#606060" stroke-width="0.8"/>
<text transform="translate(283.80 244.40) rotate(-90)" font-size="4.8" text-anchor="end" fill="#111" stroke="#111" stroke-width="0.1">148</text>
<line x1="287.20" y1="241.80" x2="287.20" y2="243.90" stroke="#606060" stroke-width="0.8"/>
<text transform="translate(288.70 244.40) rotate(-90)" font-size="4.8" text-anchor="end" fill="#111" stroke="#111" stroke-width="0.1">40</text>
<line x1="292.10" y1="241.80" x2="292.10" y2="243.90" stroke="#606060" stroke-width="0.8"/>
<text transform="translate(293.60 244.40) rotate(-90)" font-size="4.8" text-anchor="end" fill="#111" stroke="#111" stroke-width="0.1">167</text>
<line x1="165.00" y1="145.80" x2="165.00" y2="241.80" stroke="#2a2aff" stroke-width="1.4" stroke-dasharray="2.0 1.47"/>
<rect x="21.75" y="205.15" width="1.7" height="1.7" fill="#111"/>
<rect x="26.65" y="201.95" width="1.7" height="1.7" fill="#111"/>
<rect x="31.55" y="200.35" width="1.7" height="1.7" fill="#111"/>
<rect x="36.45" y="196.35" width="1.7" height="1.7" fill="#111"/>
<rect x="41.35" y="196.15" width="1.7" height="1.7" fill="#111"/>
<rect x="46.25" y="195.95" width="1.7" height="1.7" fill="#111"/>
<rect x="51.15" y="195.35" width="1.7" height="1.7" fill="#111"/>
<rect x="56.05" y="194.95" width="1.7" height="1.7" fill="#111"/>
<rect x="60.95" y="193.35" width="1.7" height="1.7" fill="#111"/>
<rect x="65.85" y="192.75" width="1.7" height="1.7" fill="#111"/>
<rect x="70.75" y="191.95" width="1.7" height="1.7" fill="#111"/>
<rect x="75.65" y="189.75" width="1.7" height="1.7" fill="#111"/>
<rect x="80.55" y="188.95" width="1.7" height="1.7" fill="#111"/>
<rect x="85.45" y="187.15" width="1.7" height="1.7" fill="#111"/>
<rect x="90.35" y="185.15" width="1.7" height="1.7" fill="#111"/>
<rect x="95.25" y="184.95" width="1.7" height="1.7" fill="#111"/>
<rect x="100.15" y="184.15" width="1.7" height="1.7" fill="#111"/>
<rect x="105.05" y="182.35" width="1.7" height="1.7" fill="#111"/>
<rect x="109.95" y="181.35" width="1.7" height="1.7" fill="#111"/>
<rect x="114.85" y="180.75" width="1.7" height="1.7" fill="#111"/>
<rect x="119.75" y="179.75" width="1.7" height="1.7" fill="#111"/>
<rect x="124.65" y="179.35" width="1.7" height="1.7" fill="#111"/>
<rect x="129.55" y="178.55" width="1.7" height="1.7" fill="#111"/>
<rect x="134.45" y="177.95" width="1.7" height="1.7" fill="#111"/>
<rect x="139.35" y="176.75" width="1.7" height="1.7" fill="#111"/>
<rect x="144.25" y="175.95" width="1.7" height="1.7" fill="#111"/>
<rect x="149.15" y="174.95" width="1.7" height="1.7" fill="#111"/>
<rect x="154.05" y="169.35" width="1.7" height="1.7" fill="#111"/>
<rect x="158.95" y="164.95" width="1.7" height="1.7" fill="#111"/>
<rect x="168.90" y="194.10" width="1.4" height="1.4" fill="#2a2aff"/>
<rect x="173.80" y="190.90" width="1.4" height="1.4" fill="#2a2aff"/>
<rect x="178.70" y="187.30" width="1.4" height="1.4" fill="#2a2aff"/>
<rect x="183.60" y="187.10" width="1.4" height="1.4" fill="#2a2aff"/>
<rect x="188.50" y="185.10" width="1.4" height="1.4" fill="#2a2aff"/>
<rect x="193.40" y="184.10" width="1.4" height="1.4" fill="#2a2aff"/>
<rect x="198.30" y="181.30" width="1.4" height="1.4" fill="#2a2aff"/>
<rect x="203.20" y="180.50" width="1.4" height="1.4" fill="#2a2aff"/>
<rect x="208.10" y="176.90" width="1.4" height="1.4" fill="#2a2aff"/>
<rect x="213.00" y="176.50" width="1.4" height="1.4" fill="#2a2aff"/>
<rect x="217.90" y="175.10" width="1.4" height="1.4" fill="#2a2aff"/>
<rect x="222.80" y="173.70" width="1.4" height="1.4" fill="#2a2aff"/>
<rect x="227.70" y="173.30" width="1.4" height="1.4" fill="#2a2aff"/>
<rect x="232.60" y="172.50" width="1.4" height="1.4" fill="#2a2aff"/>
<rect x="237.50" y="172.30" width="1.4" height="1.4" fill="#2a2aff"/>
<rect x="242.40" y="171.90" width="1.4" height="1.4" fill="#2a2aff"/>
<rect x="247.30" y="171.50" width="1.4" height="1.4" fill="#2a2aff"/>
<rect x="252.20" y="169.10" width="1.4" height="1.4" fill="#2a2aff"/>
<rect x="257.10" y="168.50" width="1.4" height="1.4" fill="#2a2aff"/>
<rect x="262.00" y="166.30" width="1.4" height="1.4" fill="#2a2aff"/>
<rect x="266.90" y="166.10" width="1.4" height="1.4" fill="#2a2aff"/>
<rect x="271.80" y="165.70" width="1.4" height="1.4" fill="#2a2aff"/>
<rect x="276.70" y="165.30" width="1.4" height="1.4" fill="#2a2aff"/>
<rect x="281.60" y="164.90" width="1.4" height="1.4" fill="#2a2aff"/>
<rect x="286.50" y="163.30" width="1.4" height="1.4" fill="#2a2aff"/>
<rect x="291.40" y="162.70" width="1.4" height="1.4" fill="#2a2aff"/>
<text x="26.40" y="156.00" font-size="6.5" fill="#111" stroke="#111" stroke-width="0.08">HRV</text>
<text x="168.00" y="154.00" font-size="7.2" fill="#111" stroke="#111" stroke-width="0.08">BFA RP</text>
<text x="168.00" y="161.40" font-size="7.2" fill="#111" stroke="#111" stroke-width="0.08">HEV/HRV Negative</text>
<text x="157.70" y="259.70" font-size="5.95" text-anchor="middle" fill="#111" stroke="#111" stroke-width="0.1">NPS specimens</text>
<text transform="translate(7.50 195.00) rotate(-90)" font-size="5.95" text-anchor="middle" fill="#111" stroke="#111" stroke-width="0.1">Ct value</text>
<line x1="20.70" y1="365.50" x2="114.50" y2="365.50" stroke="#c2c2c2" stroke-width="0.7"/>
<line x1="20.70" y1="346.50" x2="114.50" y2="346.50" stroke="#c2c2c2" stroke-width="0.7"/>
<line x1="20.70" y1="327.50" x2="114.50" y2="327.50" stroke="#c2c2c2" stroke-width="0.7"/>
<line x1="20.70" y1="308.50" x2="114.50" y2="308.50" stroke="#c2c2c2" stroke-width="0.7"/>
<line x1="20.70" y1="290.50" x2="114.50" y2="290.50" stroke="#c2c2c2" stroke-width="0.7"/>
<line x1="19.50" y1="289.60" x2="19.50" y2="384.70" stroke="#606060" stroke-width="0.85"/>
<line x1="19.10" y1="384.30" x2="114.50" y2="384.30" stroke="#606060" stroke-width="0.85"/>
<line x1="17.50" y1="384.30" x2="19.50" y2="384.30" stroke="#606060" stroke-width="0.7"/>
<text x="16.70" y="385.69" font-size="4.2" text-anchor="end" fill="#111" stroke="#111" stroke-width="0.1">0</text>
<line x1="17.50" y1="365.44" x2="19.50" y2="365.44" stroke="#606060" stroke-width="0.7"/>
<text x="16.70" y="366.83" font-size="4.2" text-anchor="end" fill="#111" stroke="#111" stroke-width="0.1">10</text>
<line x1="17.50" y1="346.58" x2="19.50" y2="346.58" stroke="#606060" stroke-width="0.7"/>
<text x="16.70" y="347.97" font-size="4.2" text-anchor="end" fill="#111" stroke="#111" stroke-width="0.1">20</text>
<line x1="17.50" y1="327.72" x2="19.50" y2="327.72" stroke="#606060" stroke-width="0.7"/>
<text x="16.70" y="329.11" font-size="4.2" text-anchor="end" fill="#111" stroke="#111" stroke-width="0.1">30</text>
<line x1="17.50" y1="308.86" x2="19.50" y2="308.86" stroke="#606060" stroke-width="0.7"/>
<text x="16.70" y="310.25" font-size="4.2" text-anchor="end" fill="#111" stroke="#111" stroke-width="0.1">40</text>
<line x1="17.50" y1="290.00" x2="19.50" y2="290.00" stroke="#606060" stroke-width="0.7"/>
<text x="16.70" y="291.39" font-size="4.2" text-anchor="end" fill="#111" stroke="#111" stroke-width="0.1">50</text>
<line x1="28.00" y1="384.30" x2="28.00" y2="386.40" stroke="#606060" stroke-width="0.8"/>
<text transform="translate(29.50 386.90) rotate(-90)" font-size="4.8" text-anchor="end" fill="#111" stroke="#111" stroke-width="0.1">176</text>
<line x1="41.00" y1="384.30" x2="41.00" y2="386.40" stroke="#606060" stroke-width="0.8"/>
<text transform="translate(42.50 386.90) rotate(-90)" font-size="4.8" text-anchor="end" fill="#111" stroke="#111" stroke-width="0.1">131</text>
<line x1="54.00" y1="384.30" x2="54.00" y2="386.40" stroke="#606060" stroke-width="0.8"/>
<text transform="translate(55.50 386.90) rotate(-90)" font-size="4.8" text-anchor="end" fill="#111" stroke="#111" stroke-width="0.1">108</text>
<line x1="67.00" y1="384.30" x2="67.00" y2="386.40" stroke="#606060" stroke-width="0.8"/>
<line x1="80.00" y1="384.30" x2="80.00" y2="386.40" stroke="#606060" stroke-width="0.8"/>
<text transform="translate(81.50 386.90) rotate(-90)" font-size="4.8" text-anchor="end" fill="#111" stroke="#111" stroke-width="0.1">50</text>
<line x1="93.00" y1="384.30" x2="93.00" y2="386.40" stroke="#606060" stroke-width="0.8"/>
<text transform="translate(94.50 386.90) rotate(-90)" font-size="4.8" text-anchor="end" fill="#111" stroke="#111" stroke-width="0.1">69</text>
<line x1="106.00" y1="384.30" x2="106.00" y2="386.40" stroke="#606060" stroke-width="0.8"/>
<text transform="translate(107.50 386.90) rotate(-90)" font-size="4.8" text-anchor="end" fill="#111" stroke="#111" stroke-width="0.1">78</text>
<line x1="67.00" y1="288.50" x2="67.00" y2="384.30" stroke="#2a2aff" stroke-width="1.4" stroke-dasharray="2.0 1.47"/>
<rect x="27.15" y="348.18" width="1.7" height="1.7" fill="#111"/>
<rect x="40.15" y="341.96" width="1.7" height="1.7" fill="#111"/>
<rect x="53.15" y="313.67" width="1.7" height="1.7" fill="#111"/>
<rect x="79.30" y="312.31" width="1.4" height="1.4" fill="#2a2aff"/>
<rect x="92.30" y="309.10" width="1.4" height="1.4" fill="#2a2aff"/>
<rect x="105.30" y="305.90" width="1.4" height="1.4" fill="#2a2aff"/>
<text x="26.20" y="300.00" font-size="6.5" fill="#111" stroke="#111" stroke-width="0.08">PIV-1</text>
<text x="69.60" y="296.80" font-size="7.5" fill="#111" stroke="#111" stroke-width="0.08">BFA RP</text>
<text x="69.60" y="304.20" font-size="7.5" fill="#111" stroke="#111" stroke-width="0.08">Negative</text>
<text x="67.00" y="401.80" font-size="5.95" text-anchor="middle" fill="#111" stroke="#111" stroke-width="0.1">NPS specimens</text>
<text transform="translate(8.70 337.50) rotate(-90)" font-size="5.7" text-anchor="middle" fill="#111" stroke="#111" stroke-width="0.1">Ct value</text>
<line x1="196.70" y1="365.50" x2="290.75" y2="365.50" stroke="#c2c2c2" stroke-width="0.7"/>
<line x1="196.70" y1="346.50" x2="290.75" y2="346.50" stroke="#c2c2c2" stroke-width="0.7"/>
<line x1="196.70" y1="327.50" x2="290.75" y2="327.50" stroke="#c2c2c2" stroke-width="0.7"/>
<line x1="196.70" y1="308.50" x2="290.75" y2="308.50" stroke="#c2c2c2" stroke-width="0.7"/>
<line x1="196.70" y1="290.50" x2="290.75" y2="290.50" stroke="#c2c2c2" stroke-width="0.7"/>
<line x1="195.50" y1="289.60" x2="195.50" y2="384.70" stroke="#606060" stroke-width="0.85"/>
<line x1="195.10" y1="384.30" x2="290.75" y2="384.30" stroke="#606060" stroke-width="0.85"/>
<line x1="193.50" y1="384.30" x2="195.50" y2="384.30" stroke="#606060" stroke-width="0.7"/>
<text x="192.70" y="385.69" font-size="4.2" text-anchor="end" fill="#111" stroke="#111" stroke-width="0.1">0</text>
<line x1="193.50" y1="365.44" x2="195.50" y2="365.44" stroke="#606060" stroke-width="0.7"/>
<text x="192.70" y="366.83" font-size="4.2" text-anchor="end" fill="#111" stroke="#111" stroke-width="0.1">10</text>
<line x1="193.50" y1="346.58" x2="195.50" y2="346.58" stroke="#606060" stroke-width="0.7"/>
<text x="192.70" y="347.97" font-size="4.2" text-anchor="end" fill="#111" stroke="#111" stroke-width="0.1">20</text>
<line x1="193.50" y1="327.72" x2="195.50" y2="327.72" stroke="#606060" stroke-width="0.7"/>
<text x="192.70" y="329.11" font-size="4.2" text-anchor="end" fill="#111" stroke="#111" stroke-width="0.1">30</text>
<line x1="193.50" y1="308.86" x2="195.50" y2="308.86" stroke="#606060" stroke-width="0.7"/>
<text x="192.70" y="310.25" font-size="4.2" text-anchor="end" fill="#111" stroke="#111" stroke-width="0.1">40</text>
<line x1="193.50" y1="290.00" x2="195.50" y2="290.00" stroke="#606060" stroke-width="0.7"/>
<text x="192.70" y="291.39" font-size="4.2" text-anchor="end" fill="#111" stroke="#111" stroke-width="0.1">50</text>
<line x1="205.50" y1="384.30" x2="205.50" y2="386.40" stroke="#606060" stroke-width="0.8"/>
<text transform="translate(207.00 386.90) rotate(-90)" font-size="4.8" text-anchor="end" fill="#111" stroke="#111" stroke-width="0.1">82</text>
<line x1="220.50" y1="384.30" x2="220.50" y2="386.40" stroke="#606060" stroke-width="0.8"/>
<text transform="translate(222.00 386.90) rotate(-90)" font-size="4.8" text-anchor="end" fill="#111" stroke="#111" stroke-width="0.1">1</text>
<line x1="235.50" y1="384.30" x2="235.50" y2="386.40" stroke="#606060" stroke-width="0.8"/>
<line x1="250.50" y1="384.30" x2="250.50" y2="386.40" stroke="#606060" stroke-width="0.8"/>
<text transform="translate(252.00 386.90) rotate(-90)" font-size="4.8" text-anchor="end" fill="#111" stroke="#111" stroke-width="0.1">159</text>
<line x1="265.50" y1="384.30" x2="265.50" y2="386.40" stroke="#606060" stroke-width="0.8"/>
<text transform="translate(267.00 386.90) rotate(-90)" font-size="4.8" text-anchor="end" fill="#111" stroke="#111" stroke-width="0.1">146</text>
<line x1="280.50" y1="384.30" x2="280.50" y2="386.40" stroke="#606060" stroke-width="0.8"/>
<text transform="translate(282.00 386.90) rotate(-90)" font-size="4.8" text-anchor="end" fill="#111" stroke="#111" stroke-width="0.1">127</text>
<line x1="235.50" y1="288.50" x2="235.50" y2="384.30" stroke="#2a2aff" stroke-width="1.4" stroke-dasharray="2.0 1.47"/>
<rect x="204.65" y="346.11" width="1.7" height="1.7" fill="#111"/>
<rect x="219.65" y="341.39" width="1.7" height="1.7" fill="#111"/>
<rect x="249.80" y="313.82" width="1.4" height="1.4" fill="#2a2aff"/>
<rect x="264.80" y="312.88" width="1.4" height="1.4" fill="#2a2aff"/>
<rect x="279.80" y="310.61" width="1.4" height="1.4" fill="#2a2aff"/>
<text x="202.70" y="300.00" font-size="6.5" fill="#111" stroke="#111" stroke-width="0.08">PIV-2</text>
<text x="238.70" y="296.80" font-size="7.5" fill="#111" stroke="#111" stroke-width="0.08">BFA RP</text>
<text x="238.70" y="304.20" font-size="7.5" fill="#111" stroke="#111" stroke-width="0.08">Negative</text>
<text x="243.40" y="401.80" font-size="5.95" text-anchor="middle" fill="#111" stroke="#111" stroke-width="0.1">NPS specimens</text>
<text transform="translate(184.70 337.50) rotate(-90)" font-size="5.7" text-anchor="middle" fill="#111" stroke="#111" stroke-width="0.1">Ct value</text>
<line x1="371.20" y1="365.50" x2="465.00" y2="365.50" stroke="#c2c2c2" stroke-width="0.7"/>
<line x1="371.20" y1="346.50" x2="465.00" y2="346.50" stroke="#c2c2c2" stroke-width="0.7"/>
<line x1="371.20" y1="327.50" x2="465.00" y2="327.50" stroke="#c2c2c2" stroke-width="0.7"/>
<line x1="371.20" y1="308.50" x2="465.00" y2="308.50" stroke="#c2c2c2" stroke-width="0.7"/>
<line x1="371.20" y1="290.50" x2="465.00" y2="290.50" stroke="#c2c2c2" stroke-width="0.7"/>
<line x1="370.00" y1="289.60" x2="370.00" y2="384.70" stroke="#606060" stroke-width="0.85"/>
<line x1="369.60" y1="384.30" x2="465.00" y2="384.30" stroke="#606060" stroke-width="0.85"/>
<line x1="368.00" y1="384.30" x2="370.00" y2="384.30" stroke="#606060" stroke-width="0.7"/>
<text x="367.20" y="385.69" font-size="4.2" text-anchor="end" fill="#111" stroke="#111" stroke-width="0.1">0</text>
<line x1="368.00" y1="365.44" x2="370.00" y2="365.44" stroke="#606060" stroke-width="0.7"/>
<text x="367.20" y="366.83" font-size="4.2" text-anchor="end" fill="#111" stroke="#111" stroke-width="0.1">10</text>
<line x1="368.00" y1="346.58" x2="370.00" y2="346.58" stroke="#606060" stroke-width="0.7"/>
<text x="367.20" y="347.97" font-size="4.2" text-anchor="end" fill="#111" stroke="#111" stroke-width="0.1">20</text>
<line x1="368.00" y1="327.72" x2="370.00" y2="327.72" stroke="#606060" stroke-width="0.7"/>
<text x="367.20" y="329.11" font-size="4.2" text-anchor="end" fill="#111" stroke="#111" stroke-width="0.1">30</text>
<line x1="368.00" y1="308.86" x2="370.00" y2="308.86" stroke="#606060" stroke-width="0.7"/>
<text x="367.20" y="310.25" font-size="4.2" text-anchor="end" fill="#111" stroke="#111" stroke-width="0.1">40</text>
<line x1="368.00" y1="290.00" x2="370.00" y2="290.00" stroke="#606060" stroke-width="0.7"/>
<text x="367.20" y="291.39" font-size="4.2" text-anchor="end" fill="#111" stroke="#111" stroke-width="0.1">50</text>
<line x1="380.00" y1="384.30" x2="380.00" y2="386.40" stroke="#606060" stroke-width="0.8"/>
<text transform="translate(381.50 386.90) rotate(-90)" font-size="4.8" text-anchor="end" fill="#111" stroke="#111" stroke-width="0.1">7</text>
<line x1="395.00" y1="384.30" x2="395.00" y2="386.40" stroke="#606060" stroke-width="0.8"/>
<text transform="translate(396.50 386.90) rotate(-90)" font-size="4.8" text-anchor="end" fill="#111" stroke="#111" stroke-width="0.1">9</text>
<line x1="410.00" y1="384.30" x2="410.00" y2="386.40" stroke="#606060" stroke-width="0.8"/>
<text transform="translate(411.50 386.90) rotate(-90)" font-size="4.8" text-anchor="end" fill="#111" stroke="#111" stroke-width="0.1">28</text>
<line x1="425.00" y1="384.30" x2="425.00" y2="386.40" stroke="#606060" stroke-width="0.8"/>
<text transform="translate(426.50 386.90) rotate(-90)" font-size="4.8" text-anchor="end" fill="#111" stroke="#111" stroke-width="0.1">20</text>
<line x1="440.00" y1="384.30" x2="440.00" y2="386.40" stroke="#606060" stroke-width="0.8"/>
<line x1="455.00" y1="384.30" x2="455.00" y2="386.40" stroke="#606060" stroke-width="0.8"/>
<text transform="translate(456.50 386.90) rotate(-90)" font-size="4.8" text-anchor="end" fill="#111" stroke="#111" stroke-width="0.1">157</text>
<line x1="440.00" y1="288.50" x2="440.00" y2="384.30" stroke="#2a2aff" stroke-width="1.4" stroke-dasharray="2.0 1.47"/>
<rect x="379.15" y="346.30" width="1.7" height="1.7" fill="#111"/>
<rect x="394.15" y="345.16" width="1.7" height="1.7" fill="#111"/>
<rect x="409.15" y="338.19" width="1.7" height="1.7" fill="#111"/>
<rect x="424.15" y="335.92" width="1.7" height="1.7" fill="#111"/>
<rect x="454.30" y="311.93" width="1.4" height="1.4" fill="#2a2aff"/>
<text x="377.00" y="300.00" font-size="6.5" fill="#111" stroke="#111" stroke-width="0.08">PIV-3</text>
<text x="442.70" y="296.80" font-size="7.5" fill="#111" stroke="#111" stroke-width="0.08">BFA RP</text>
<text x="442.70" y="304.20" font-size="7.5" fill="#111" stroke="#111" stroke-width="0.08">Negative</text>
<text x="417.50" y="401.80" font-size="5.95" text-anchor="middle" fill="#111" stroke="#111" stroke-width="0.1">NPS specimens</text>
<text transform="translate(359.20 337.50) rotate(-90)" font-size="5.7" text-anchor="middle" fill="#111" stroke="#111" stroke-width="0.1">Ct value</text>
<line x1="20.70" y1="503.50" x2="114.50" y2="503.50" stroke="#c2c2c2" stroke-width="0.7"/>
<line x1="20.70" y1="484.50" x2="114.50" y2="484.50" stroke="#c2c2c2" stroke-width="0.7"/>
<line x1="20.70" y1="465.50" x2="114.50" y2="465.50" stroke="#c2c2c2" stroke-width="0.7"/>
<line x1="20.70" y1="446.50" x2="114.50" y2="446.50" stroke="#c2c2c2" stroke-width="0.7"/>
<line x1="20.70" y1="427.50" x2="114.50" y2="427.50" stroke="#c2c2c2" stroke-width="0.7"/>
<line x1="19.50" y1="427.10" x2="19.50" y2="522.50" stroke="#606060" stroke-width="0.85"/>
<line x1="19.10" y1="522.10" x2="114.50" y2="522.10" stroke="#606060" stroke-width="0.85"/>
<line x1="17.50" y1="522.10" x2="19.50" y2="522.10" stroke="#606060" stroke-width="0.7"/>
<text x="16.70" y="523.49" font-size="4.2" text-anchor="end" fill="#111" stroke="#111" stroke-width="0.1">0</text>
<line x1="17.50" y1="503.18" x2="19.50" y2="503.18" stroke="#606060" stroke-width="0.7"/>
<text x="16.70" y="504.57" font-size="4.2" text-anchor="end" fill="#111" stroke="#111" stroke-width="0.1">10</text>
<line x1="17.50" y1="484.26" x2="19.50" y2="484.26" stroke="#606060" stroke-width="0.7"/>
<text x="16.70" y="485.65" font-size="4.2" text-anchor="end" fill="#111" stroke="#111" stroke-width="0.1">20</text>
<line x1="17.50" y1="465.34" x2="19.50" y2="465.34" stroke="#606060" stroke-width="0.7"/>
<text x="16.70" y="466.73" font-size="4.2" text-anchor="end" fill="#111" stroke="#111" stroke-width="0.1">30</text>
<line x1="17.50" y1="446.42" x2="19.50" y2="446.42" stroke="#606060" stroke-width="0.7"/>
<text x="16.70" y="447.81" font-size="4.2" text-anchor="end" fill="#111" stroke="#111" stroke-width="0.1">40</text>
<line x1="17.50" y1="427.50" x2="19.50" y2="427.50" stroke="#606060" stroke-width="0.7"/>
<text x="16.70" y="428.89" font-size="4.2" text-anchor="end" fill="#111" stroke="#111" stroke-width="0.1">50</text>
<line x1="27.75" y1="522.10" x2="27.75" y2="524.20" stroke="#606060" stroke-width="0.8"/>
<text transform="translate(29.25 524.70) rotate(-90)" font-size="4.8" text-anchor="end" fill="#111" stroke="#111" stroke-width="0.1">24</text>
<line x1="40.70" y1="522.10" x2="40.70" y2="524.20" stroke="#606060" stroke-width="0.8"/>
<text transform="translate(42.20 524.70) rotate(-90)" font-size="4.8" text-anchor="end" fill="#111" stroke="#111" stroke-width="0.1">38</text>
<line x1="53.65" y1="522.10" x2="53.65" y2="524.20" stroke="#606060" stroke-width="0.8"/>
<line x1="66.60" y1="522.10" x2="66.60" y2="524.20" stroke="#606060" stroke-width="0.8"/>
<text transform="translate(68.10 524.70) rotate(-90)" font-size="4.8" text-anchor="end" fill="#111" stroke="#111" stroke-width="0.1">143</text>
<line x1="79.55" y1="522.10" x2="79.55" y2="524.20" stroke="#606060" stroke-width="0.8"/>
<text transform="translate(81.05 524.70) rotate(-90)" font-size="4.8" text-anchor="end" fill="#111" stroke="#111" stroke-width="0.1">44</text>
<line x1="92.50" y1="522.10" x2="92.50" y2="524.20" stroke="#606060" stroke-width="0.8"/>
<text transform="translate(94.00 524.70) rotate(-90)" font-size="4.8" text-anchor="end" fill="#111" stroke="#111" stroke-width="0.1">63</text>
<line x1="105.45" y1="522.10" x2="105.45" y2="524.20" stroke="#606060" stroke-width="0.8"/>
<text transform="translate(106.95 524.70) rotate(-90)" font-size="4.8" text-anchor="end" fill="#111" stroke="#111" stroke-width="0.1">83</text>
<line x1="53.65" y1="426.00" x2="53.65" y2="522.10" stroke="#2a2aff" stroke-width="1.0" stroke-dasharray="2.0 1.47"/>
<rect x="26.90" y="480.95" width="1.7" height="1.7" fill="#111"/>
<rect x="39.85" y="479.25" width="1.7" height="1.7" fill="#111"/>
<rect x="65.90" y="463.69" width="1.4" height="1.4" fill="#2a2aff"/>
<rect x="78.85" y="454.61" width="1.4" height="1.4" fill="#2a2aff"/>
<rect x="91.80" y="450.45" width="1.4" height="1.4" fill="#2a2aff"/>
<rect x="104.75" y="444.77" width="1.4" height="1.4" fill="#2a2aff"/>
<text x="26.00" y="437.10" font-size="6.5" fill="#111" stroke="#111" stroke-width="0.08">PIV-4</text>
<text x="56.50" y="434.30" font-size="7.5" fill="#111" stroke="#111" stroke-width="0.08">BFA RP</text>
<text x="56.50" y="441.70" font-size="7.5" fill="#111" stroke="#111" stroke-width="0.08">Negative</text>
<text x="66.00" y="539.50" font-size="5.95" text-anchor="middle" fill="#111" stroke="#111" stroke-width="0.1">NPS specimens</text>
<text transform="translate(8.70 475.00) rotate(-90)" font-size="5.7" text-anchor="middle" fill="#111" stroke="#111" stroke-width="0.1">Ct value</text>
<line x1="196.70" y1="503.50" x2="290.75" y2="503.50" stroke="#c2c2c2" stroke-width="0.7"/>
<line x1="196.70" y1="484.50" x2="290.75" y2="484.50" stroke="#c2c2c2" stroke-width="0.7"/>
<line x1="196.70" y1="465.50" x2="290.75" y2="465.50" stroke="#c2c2c2" stroke-width="0.7"/>
<line x1="196.70" y1="446.50" x2="290.75" y2="446.50" stroke="#c2c2c2" stroke-width="0.7"/>
<line x1="196.70" y1="427.50" x2="290.75" y2="427.50" stroke="#c2c2c2" stroke-width="0.7"/>
<line x1="195.50" y1="427.10" x2="195.50" y2="522.50" stroke="#606060" stroke-width="0.85"/>
<line x1="195.10" y1="522.10" x2="290.75" y2="522.10" stroke="#606060" stroke-width="0.85"/>
<line x1="193.50" y1="522.10" x2="195.50" y2="522.10" stroke="#606060" stroke-width="0.7"/>
<text x="192.70" y="523.49" font-size="4.2" text-anchor="end" fill="#111" stroke="#111" stroke-width="0.1">0</text>
<line x1="193.50" y1="503.18" x2="195.50" y2="503.18" stroke="#606060" stroke-width="0.7"/>
<text x="192.70" y="504.57" font-size="4.2" text-anchor="end" fill="#111" stroke="#111" stroke-width="0.1">10</text>
<line x1="193.50" y1="484.26" x2="195.50" y2="484.26" stroke="#606060" stroke-width="0.7"/>
<text x="192.70" y="485.65" font-size="4.2" text-anchor="end" fill="#111" stroke="#111" stroke-width="0.1">20</text>
<line x1="193.50" y1="465.34" x2="195.50" y2="465.34" stroke="#606060" stroke-width="0.7"/>
<text x="192.70" y="466.73" font-size="4.2" text-anchor="end" fill="#111" stroke="#111" stroke-width="0.1">30</text>
<line x1="193.50" y1="446.42" x2="195.50" y2="446.42" stroke="#606060" stroke-width="0.7"/>
<text x="192.70" y="447.81" font-size="4.2" text-anchor="end" fill="#111" stroke="#111" stroke-width="0.1">40</text>
<line x1="193.50" y1="427.50" x2="195.50" y2="427.50" stroke="#606060" stroke-width="0.7"/>
<text x="192.70" y="428.89" font-size="4.2" text-anchor="end" fill="#111" stroke="#111" stroke-width="0.1">50</text>
<line x1="207.50" y1="522.10" x2="207.50" y2="524.20" stroke="#606060" stroke-width="0.8"/>
<text transform="translate(209.00 524.70) rotate(-90)" font-size="4.8" text-anchor="end" fill="#111" stroke="#111" stroke-width="0.1">148</text>
<line x1="225.40" y1="522.10" x2="225.40" y2="524.20" stroke="#606060" stroke-width="0.8"/>
<text transform="translate(226.90 524.70) rotate(-90)" font-size="4.8" text-anchor="end" fill="#111" stroke="#111" stroke-width="0.1">101</text>
<line x1="243.30" y1="522.10" x2="243.30" y2="524.20" stroke="#606060" stroke-width="0.8"/>
<text transform="translate(244.80 524.70) rotate(-90)" font-size="4.8" text-anchor="end" fill="#111" stroke="#111" stroke-width="0.1">130</text>
<line x1="261.20" y1="522.10" x2="261.20" y2="524.20" stroke="#606060" stroke-width="0.8"/>
<line x1="279.10" y1="522.10" x2="279.10" y2="524.20" stroke="#606060" stroke-width="0.8"/>
<text transform="translate(280.60 524.70) rotate(-90)" font-size="4.8" text-anchor="end" fill="#111" stroke="#111" stroke-width="0.1">92</text>
<line x1="261.20" y1="426.00" x2="261.20" y2="522.10" stroke="#2a2aff" stroke-width="1.0" stroke-dasharray="2.0 1.47"/>
<rect x="206.65" y="482.84" width="1.7" height="1.7" fill="#111"/>
<rect x="224.55" y="477.36" width="1.7" height="1.7" fill="#111"/>
<rect x="242.45" y="477.36" width="1.7" height="1.7" fill="#111"/>
<rect x="278.40" y="445.15" width="1.4" height="1.4" fill="#2a2aff"/>
<text x="202.60" y="436.70" font-size="6.75" fill="#111" stroke="#111" stroke-width="0.08">RSV-A</text>
<text x="264.00" y="434.30" font-size="7.5" fill="#111" stroke="#111" stroke-width="0.08">BFA RP</text>
<text x="264.00" y="441.70" font-size="7.5" fill="#111" stroke="#111" stroke-width="0.08">Negative</text>
<text x="243.40" y="539.50" font-size="5.95" text-anchor="middle" fill="#111" stroke="#111" stroke-width="0.1">NPS specimens</text>
<text transform="translate(184.70 475.00) rotate(-90)" font-size="5.7" text-anchor="middle" fill="#111" stroke="#111" stroke-width="0.1">Ct value</text>
</svg>
</body></html>
